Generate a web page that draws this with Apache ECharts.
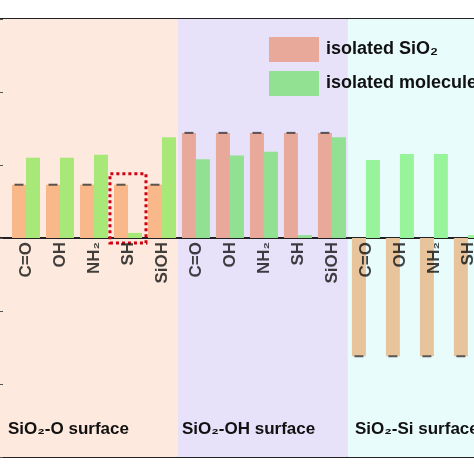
<!DOCTYPE html>
<html>
<head>
<meta charset="utf-8">
<script src="https://cdn.jsdelivr.net/npm/echarts@6/dist/echarts.min.js"></script>
<style>html,body{margin:0;padding:0;background:#fff}#main{width:474px;height:474px}</style>
</head>
<body>
<div id="main"></div>
<script>
var groups = ['C=O', 'OH', 'NH\u2082', 'SH', 'SiOH'];
var regions = ['SiO\u2082-O surface', 'SiO\u2082-OH surface', 'SiO\u2082-Si surface'];
// values per region, 5 groups each
var sio2Vals = [0.73, 0.73, 0.73, 0.73, 0.73,
                1.44, 1.44, 1.44, 1.44, 1.44,
                -1.62, -1.62, -1.62, -1.62, -1.62];
var molVals = [1.10, 1.10, 1.14, 0.07, 1.38,
               1.08, 1.13, 1.18, 0.04, 1.38,
               1.07, 1.15, 1.15, 0.04, 1.10];
var sio2Colors = ['#f8b88a', '#e8a89a', '#e8c49c'];
var molColors = ['#a8e878', '#92e092', '#98f49a'];
var regionBg = ['#fde9dd', '#e7e1fa', '#e9fcfc'];

var font = 'Liberation Sans';
var sio2Data = [], molData = [], errData = [], labelData = [];
for (var i = 0; i < 15; i++) {
	var r = Math.floor(i / 5);
	sio2Data.push({value: [i, sio2Vals[i]], itemStyle: {color: sio2Colors[r]}});
	molData.push({value: [i, molVals[i]], itemStyle: {color: molColors[r]}});
	errData.push([i, sio2Vals[i]]);
	labelData.push({value: [i, 0], name: groups[i % 5]});
}

var areas = [];
var bounds = [[-0.8, 4.47], [4.47, 9.47], [9.47, 15]];
for (var k = 0; k < 3; k++) {
	areas.push([{xAxis: bounds[k][0], yAxis: -3, itemStyle: {color: regionBg[k]}},
		{xAxis: bounds[k][1], yAxis: 3}]);
}
var titleLeft = [3, 177, 350];
var titles = regions.map(function (t, k) {
	return {text: t, left: titleLeft[k], top: 416,
		textStyle: {fontFamily: font, fontSize: 17, fontWeight: 'bold', color: '#111'}};
});

var chart = echarts.init(document.getElementById('main'));
chart.setOption({
	animation: false,
	title: titles,
	grid: {left: 0, right: 0, top: 19, bottom: 17, show: true, borderColor: '#222', borderWidth: 2},
	legend: {
		left: 264, top: 32, orient: 'vertical', itemWidth: 50, itemHeight: 25, itemGap: 9, icon: 'rect',
		textStyle: {fontFamily: font, fontSize: 18, fontWeight: 'bold', color: '#111', padding: [0, 0, 0, 2]},
		data: [{name: 'isolated SiO\u2082', itemStyle: {color: '#e8a89a'}},
			{name: 'isolated molecule', itemStyle: {color: '#92e092'}}]
	},
	xAxis: {
		type: 'value', min: -0.765, max: 13.18,
		axisLine: {onZero: true, lineStyle: {color: '#222', width: 2}},
		axisTick: {show: false}, axisLabel: {show: false}, splitLine: {show: false}
	},
	yAxis: {
		type: 'value', min: -3, max: 3, interval: 1,
		axisLine: {show: false, onZero: false}, axisLabel: {show: false}, splitLine: {show: false},
		axisTick: {show: true, inside: true, length: 3, lineStyle: {color: '#555'}}
	},
	series: [
		{
			name: 'isolated SiO\u2082', type: 'bar', barWidth: 14, barGap: '0%', z: 3,
			data: sio2Data,
			markArea: {silent: true, z: 0, data: areas}
		},
		{
			name: 'isolated molecule', type: 'bar', barWidth: 14, barGap: '0%', z: 3,
			data: molData,
			markArea: {silent: true, z: 5, itemStyle: {color: 'rgba(0,0,0,0)', borderColor: '#d00010', borderWidth: 3, borderType: [3, 3]},
				data: [[{xAxis: 2.47, yAxis: 0.88}, {xAxis: 3.53, yAxis: -0.07}]]}
		},
		{
			type: 'scatter', symbol: 'rect', symbolSize: [9, 2], symbolOffset: [-7, 0], z: 4,
			itemStyle: {color: '#333'}, data: errData, silent: true
		},
		{
			type: 'scatter', symbolSize: 0, z: 6, silent: true, data: labelData,
			label: {show: true, position: 'bottom', rotate: 90, align: 'right', verticalAlign: 'middle',
				distance: 4, formatter: '{b}', fontFamily: font, fontSize: 17, fontWeight: 'bold', color: '#111'}
		}
	]
});
</script>
</body>
</html>
